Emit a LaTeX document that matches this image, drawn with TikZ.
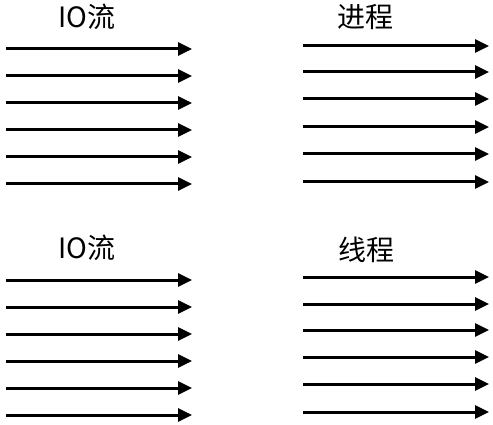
\documentclass[tikz,border=0pt]{standalone}
\usepackage{fontspec}
\setmainfont{Noto Sans CJK SC}
\usetikzlibrary{arrows.meta}
\tikzset{
  flowarrow/.style={line width=3pt, -{Triangle[length=14pt,width=13pt]}},
  title/.style={font=\fontsize{28}{31}\selectfont, inner sep=0pt, anchor=center}
}
\begin{document}
\begin{tikzpicture}[x=1pt,y=-1pt]
\useasboundingbox (0,0) rectangle (493,425);
\fill[white] (0,0) rectangle (493,425);
\node[title] (t1) at (87,17) {IO流};
\node[title] (t2) at (365,17) {进程};
\node[title] (t3) at (87,248) {IO流};
\node[title] (t4) at (366,250) {线程};
\foreach \y [count=\i] in {49,76,103,130,157,184} {
  \coordinate (tls\i) at (6,\y);
  \coordinate (tle\i) at (192,\y);
  \draw[flowarrow] (tls\i) -- (tle\i);
}
\foreach \y [count=\i] in {46,72,99,127,154,182} {
  \coordinate (trs\i) at (303,\y);
  \coordinate (tre\i) at (489,\y);
  \draw[flowarrow] (trs\i) -- (tre\i);
}
\foreach \y [count=\i] in {280,307,334,361,388,415} {
  \coordinate (bls\i) at (6,\y);
  \coordinate (ble\i) at (192,\y);
  \draw[flowarrow] (bls\i) -- (ble\i);
}
\foreach \y [count=\i] in {277,304,330,357,384,412} {
  \coordinate (brs\i) at (303,\y);
  \coordinate (bre\i) at (489,\y);
  \draw[flowarrow] (brs\i) -- (bre\i);
}
\end{tikzpicture}
\end{document}
